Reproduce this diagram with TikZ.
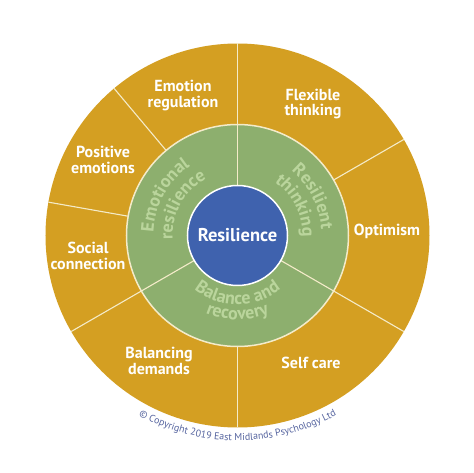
\documentclass[tikz,border=0pt]{standalone}
\usepackage{fontspec}
\setmainfont{PT Sans}
\usetikzlibrary{decorations.text}

\definecolor{gold}{HTML}{D49F22}
\definecolor{sage}{HTML}{8DAF6E}
\definecolor{sagetext}{HTML}{BAD59C}
\definecolor{royal}{HTML}{3F62AE}
\definecolor{cream}{HTML}{F4EBC9}
\definecolor{slate}{HTML}{55649F}

\newcommand{\ringfont}{\fontsize{18}{18}\selectfont\bfseries}
\newcommand{\copyfont}{\fontsize{10}{10}\selectfont}

\begin{document}
\begin{tikzpicture}[x=1pt, y=1pt,
    area/.style={text=white, align=center, font=\fontsize{16}{15.5}\selectfont\bfseries},
    divider/.style={draw=cream, line width=1.1pt},
    ringtext/.style={decorate, decoration={text along path, text align=center, text color=sagetext}}]

    \useasboundingbox[fill=white] (-237.5, -237.5) rectangle (236.5, 235.5);

    % Rings
    \fill[gold] (0, 0) circle (192);
    \foreach \a in {90, 130, 170, 210, 270, 330, 30}
        \draw[divider] (\a:111) -- (\a:192);
    \draw[fill=sage, draw=cream, line width=1.5pt] (0, 0) circle (111);
    \foreach \a in {90, 210, 330}
        \draw[divider] (\a:50) -- (\a:111);

    % Nodes
    \node at (0, 0) (core) [circle, fill=royal, draw=white, line width=1.5pt, minimum size=100pt, inner sep=0pt,
        text=white, font=\fontsize{18.5}{18.5}\selectfont\bfseries] {Resilience};

    \node at (-54.5, 140) (regulation) [area] {Emotion\\regulation};
    \node at (75.5, 131.5) (flexible) [area] {Flexible\\thinking};
    \node at (-134.5, 75.5) (positive) [area] {Positive\\emotions};
    \node at (149.5, 4.5) (optimism) [area] {Optimism};
    \node at (-149.5, -20.5) (social) [area] {Social\\connection};
    \node at (-78.5, -125.5) (demands) [area] {Balancing\\demands};
    \node at (73.5, -127.5) (selfcare) [area] {Self care};

    % Ring texts
    \path[ringtext, decoration={text={|\ringfont|Emotional}}] (201:84) arc[start angle=201, end angle=101, radius=84];
    \path[ringtext, decoration={text={|\ringfont|resilience}}] (201:65) arc[start angle=201, end angle=101, radius=65];

    \path[ringtext, decoration={text={|\ringfont|Resilient}}] (77:84) arc[start angle=77, end angle=-23, radius=84];
    \path[ringtext, decoration={text={|\ringfont|thinking}}] (77:65) arc[start angle=77, end angle=-23, radius=65];

    \path[ringtext, decoration={text={|\ringfont|Balance and}}] (210:69) arc[start angle=210, end angle=330, radius=69];
    \path[ringtext, decoration={text={|\ringfont|recovery}}] (210:84) arc[start angle=210, end angle=330, radius=84];

    % Copyright
    \path[decorate, decoration={text along path, text align=center, text color=slate,
        text={|\copyfont|© Copyright 2019 East Midlands Psychology Ltd}}]
        (225:205) arc[start angle=225, end angle=315, radius=205];

\end{tikzpicture}
\end{document}
